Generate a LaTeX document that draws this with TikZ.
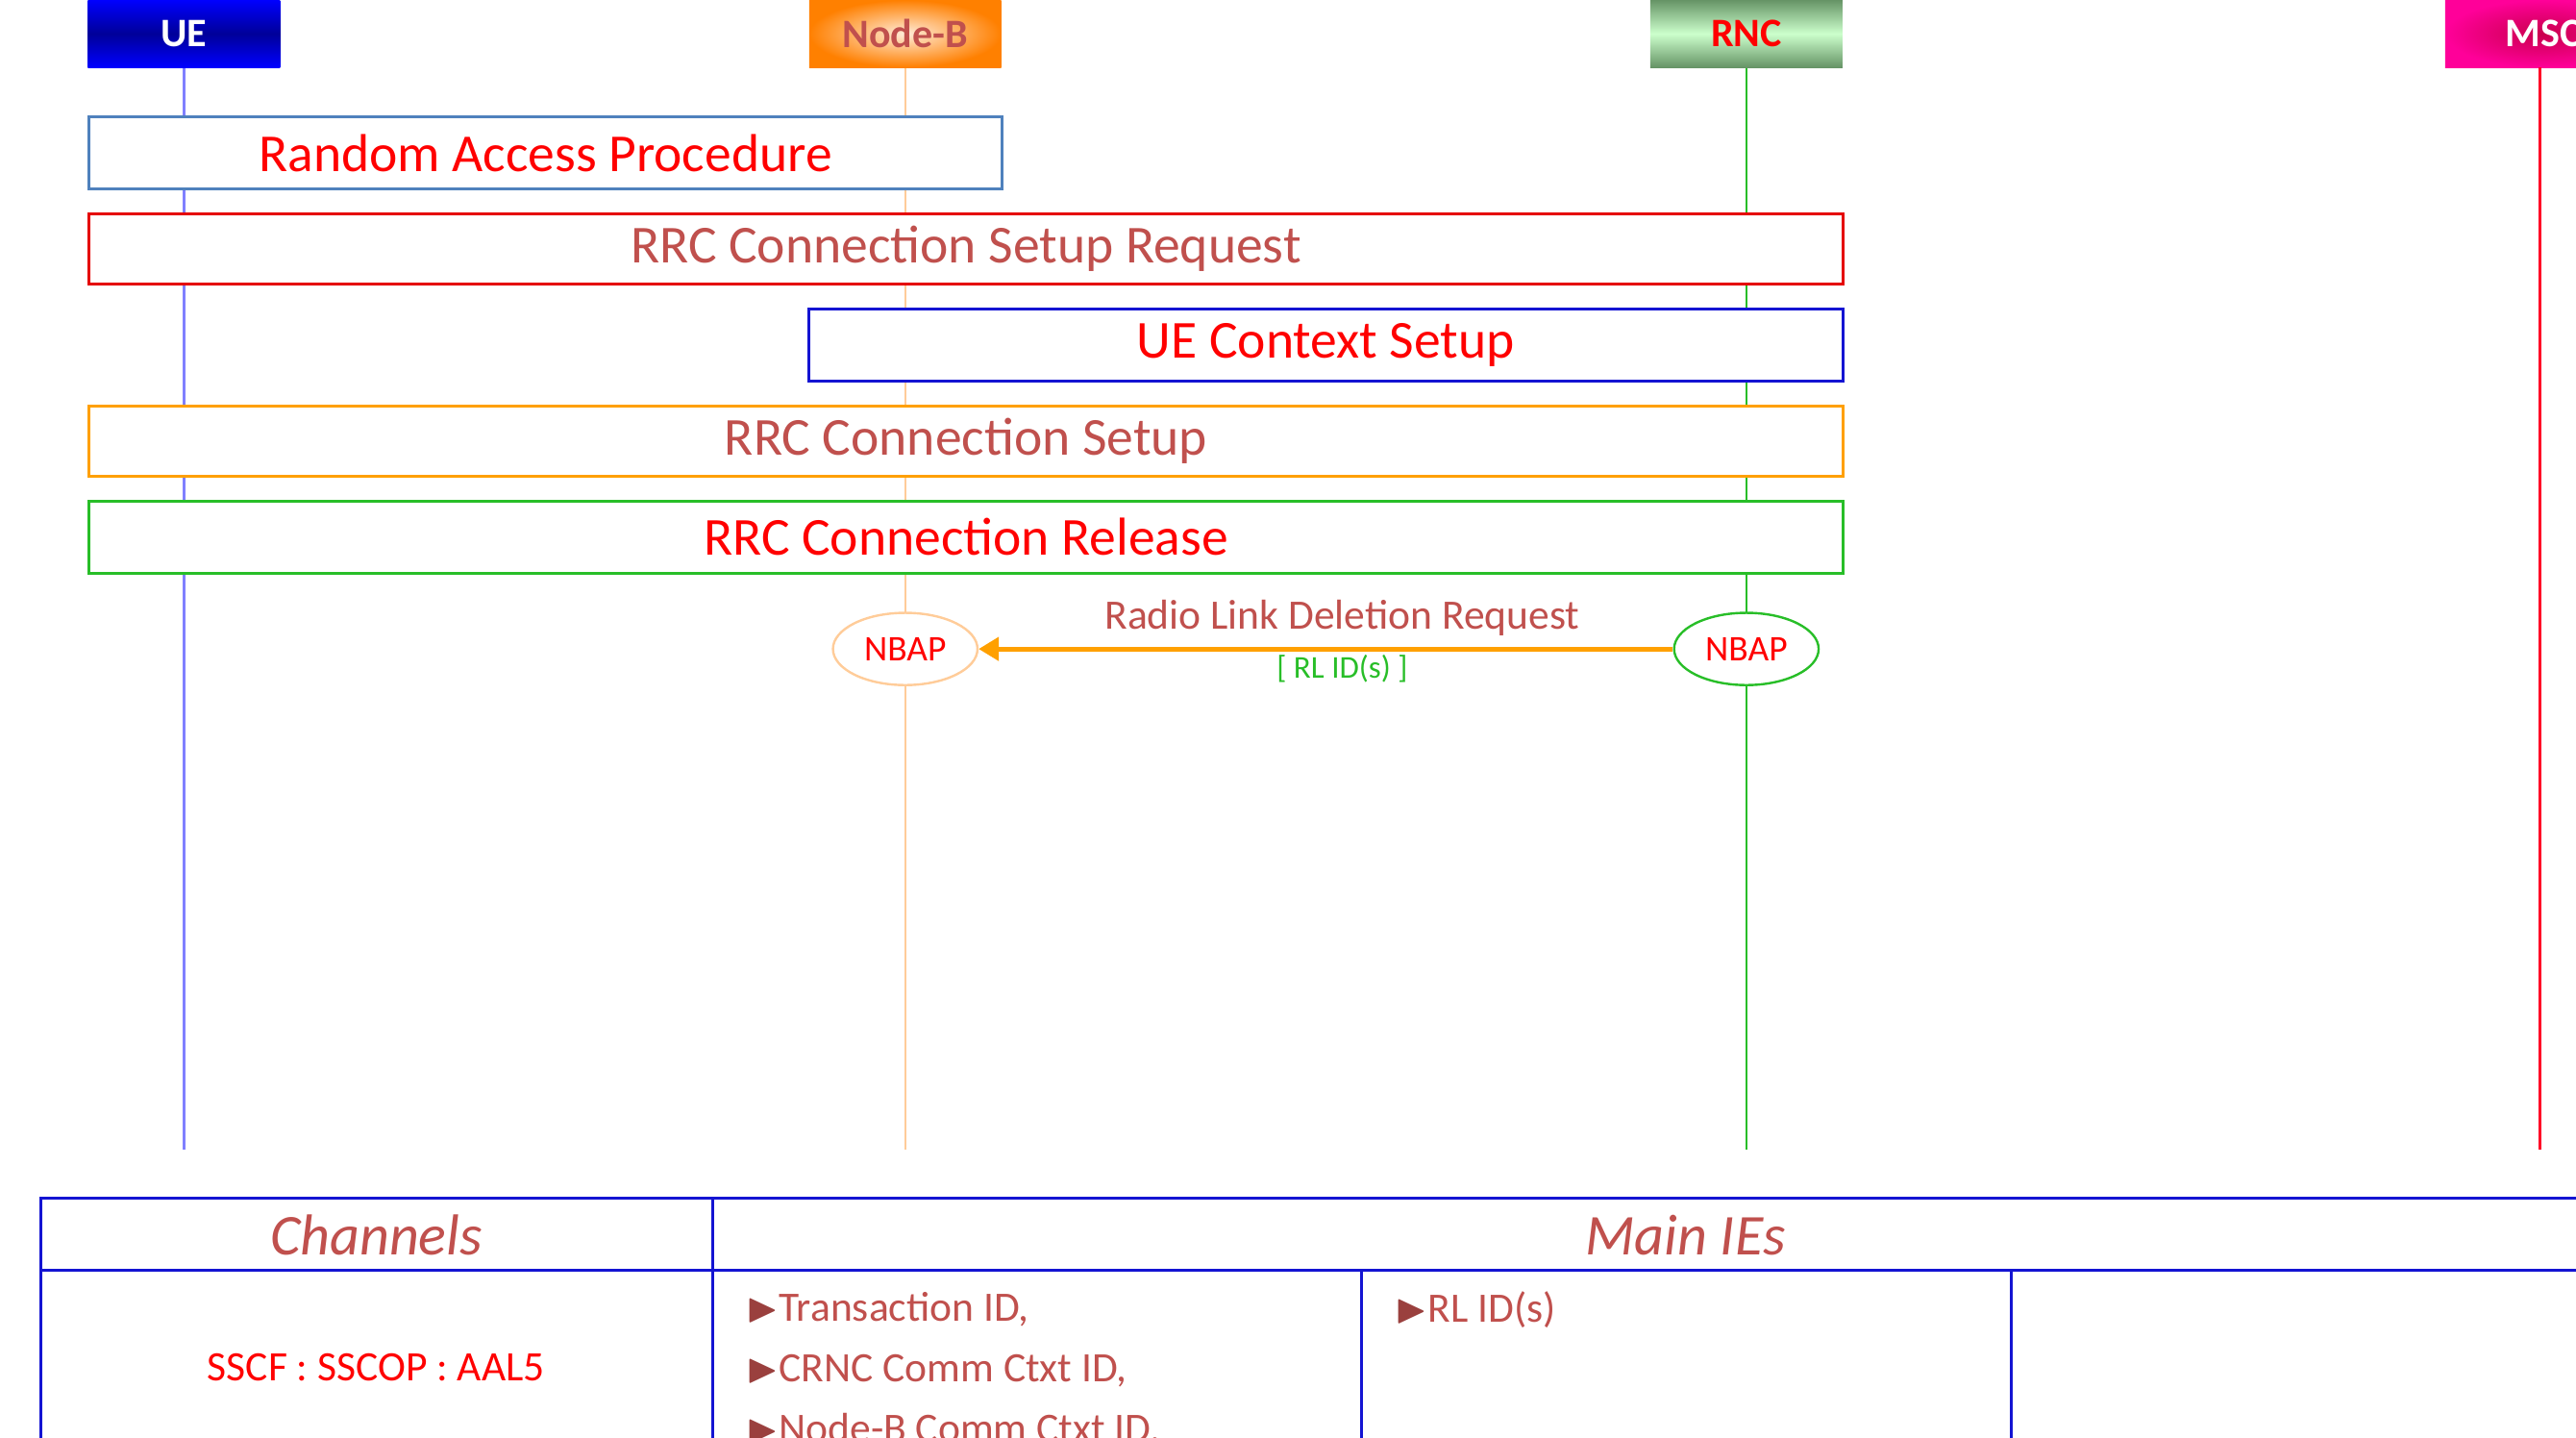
\documentclass[tikz,border=0pt]{standalone}
\usepackage{amssymb}
\usepackage{fontspec}
\setmainfont{Carlito}
\usetikzlibrary{arrows.meta,shapes.geometric}
\definecolor{brn}{RGB}{192,80,77}
\definecolor{stl}{RGB}{79,129,189}
\definecolor{org}{RGB}{255,160,0}
\definecolor{grn}{RGB}{40,190,40}
\definecolor{tblue}{RGB}{20,20,210}
\newcommand{\bul}{\textcolor{brn!80!black}{$\blacktriangleright$}}
\tikzset{
  hdr/.style={minimum width=2.34cm, minimum height=0.82cm, inner sep=0pt, font=\bfseries\fontsize{14}{14}\selectfont},
  msg/.style={draw, line width=1pt, inner sep=0pt, font=\fontsize{18.5}{18.5}\selectfont},
  nbap/.style={ellipse, draw, line width=0.8pt, minimum width=1.76cm, minimum height=0.88cm, inner sep=0pt, text=red, font=\fontsize{12.5}{12.5}\selectfont},
  life/.style={line width=0.8pt},
  tbl/.style={draw=tblue, line width=1pt}
}
\begin{document}
\begin{tikzpicture}[x=0.02cm,y=-0.02cm]
\useasboundingbox (0,0) rectangle (1568,875);
\clip (0,0) rectangle (1568,875);
% headers
\node[hdr, top color=blue, bottom color=blue, middle color=blue!60!black, text=white] (ue) at (112,20.5) {UE};
\node[hdr, inner color=orange!15, outer color=orange, text=brn] (nb) at (551,20.5) {Node-B};
\node[hdr, top color=green!30!black!60, bottom color=green!30!black!60, middle color=green!20, text=red] (rnc) at (1063,20.5) {RNC};
\node[hdr, minimum width=2.4cm, inner color=red!70!black!70!magenta, outer color=magenta!60!red, text=white, anchor=west] (msc) at (1488,20.5) {MSC};
\coordinate (ueE) at (112,700);
\coordinate (nbE) at (551,700);
\coordinate (rncE) at (1063,700);
\coordinate (mscT) at (1546,41);
\coordinate (mscE) at (1546,700);
\draw[life, blue!50] (ue) -- (ueE);
\draw[life, orange!40] (nb) -- (nbE);
\draw[life, grn] (rnc) -- (rncE);
\draw[life, red!85!magenta] (mscT) -- (mscE);
% procedure boxes
\node[msg, draw=stl, fill=white, text=red, minimum width=11.12cm, minimum height=0.88cm] (rap) at (332,93) {Random Access Procedure};
\node[msg, draw=red!90!black, fill=white, text=brn, minimum width=21.36cm, minimum height=0.86cm] (req) at (588,151.5) {RRC Connection Setup Request};
\node[msg, draw=tblue, fill=white, text=red, minimum width=12.6cm, minimum height=0.88cm] (ctx) at (807,210) {UE Context Setup};
\node[msg, draw=org, fill=white, text=brn, minimum width=21.36cm, minimum height=0.86cm] (set) at (588,268.5) {RRC Connection Setup};
\node[msg, draw=grn, fill=white, text=red, minimum width=21.36cm, minimum height=0.88cm] (rel) at (588,327) {RRC Connection Release};
% NBAP message
\node[nbap, draw=orange!40, fill=white] (n1) at (551,395) {NBAP};
\node[nbap, draw=grn, fill=white] (n2) at (1063,395) {NBAP};
\draw[org, line width=1.6pt, -{Triangle[length=7pt,width=8pt]}] (n2) -- (n1);
\node[text=brn, font=\fontsize{14.5}{14.5}\selectfont] (lbl) at (817,376) {Radio Link Deletion Request};
\node[text=grn, font=\fontsize{11}{11}\selectfont] (prm) at (817,407) {[ RL ID(s) ]};
% table
\draw[tbl] (25,729) rectangle (1620,900);
\draw[tbl] (25,773) -- (1620,773);
\draw[tbl] (434,729) -- (434,900);
\draw[tbl] (829,773) -- (829,900);
\draw[tbl] (1224,773) -- (1224,900);
\node[text=brn, font=\itshape\fontsize{20}{20}\selectfont] (ch) at (229,752) {Channels};
\node[text=brn, font=\itshape\fontsize{20}{20}\selectfont] (ie) at (1026,752) {Main IEs};
\node[text=red, font=\fontsize{14.5}{14.5}\selectfont] (cv) at (229,832) {SSCF : SSCOP : AAL5};
\node[text=brn, anchor=north west, align=left, inner sep=0pt, font=\fontsize{14.5}{21}\selectfont] (ie1) at (454,786)
  {\bul Transaction ID,\\ \bul CRNC Comm Ctxt ID,\\ \bul Node-B Comm Ctxt ID,};
\node[text=brn, anchor=north west, inner sep=0pt, font=\fontsize{14.5}{21}\selectfont] (ie2) at (849,786)
  {\bul RL ID(s)};
\end{tikzpicture}
\end{document}
